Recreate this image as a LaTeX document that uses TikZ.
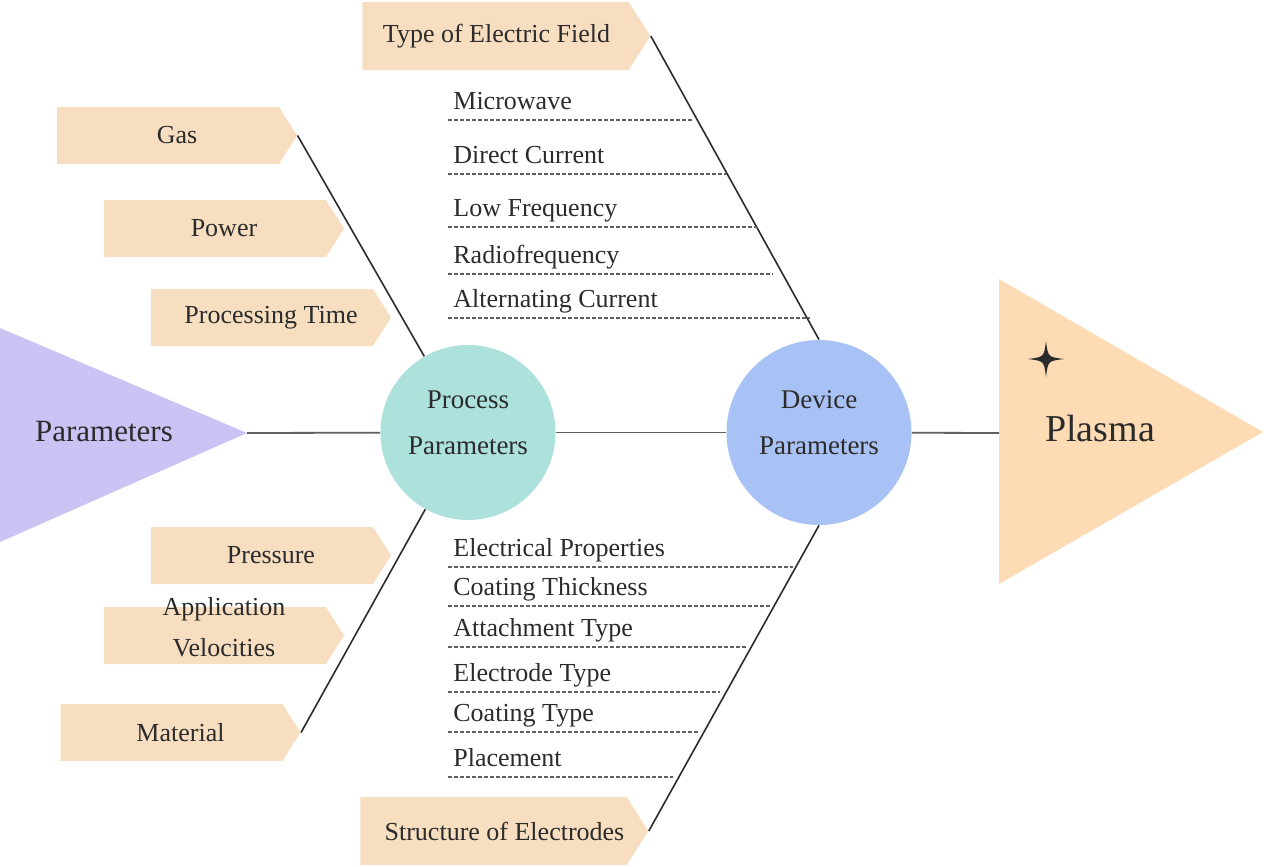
\documentclass[tikz,border=0pt]{standalone}
\usepackage{fontspec}
\setmainfont{Liberation Serif}
\usetikzlibrary{shapes.symbols,positioning}
\definecolor{tagfill}{HTML}{F8DEC0}
\definecolor{plasmafill}{HTML}{FDDBB4}
\definecolor{procfill}{HTML}{ADE1DB}
\definecolor{devfill}{HTML}{A9C2F5}
\definecolor{paramfill}{HTML}{CAC3F4}
\definecolor{dark}{HTML}{2B2B2B}
\tikzset{
  tagbase/.style={shape=signal, signal to=east, signal from=nowhere, signal pointer angle=115, fill=tagfill, inner sep=0pt, font=\fontsize{13}{15}\selectfont, text=dark},
  tag/.style={tagbase, minimum width=120pt, minimum height=28.5pt, execute at begin node={\hspace*{9pt}}},
  bigtag/.style={tagbase, minimum width=144pt, minimum height=34pt},
  hub/.style={circle, inner sep=0pt, align=center, text depth=10pt, font=\fontsize{13.5}{23}\selectfont, text=dark},
  bone/.style={draw=dark, line width=0.8pt},
  spine/.style={draw=dark!75, line width=0.9pt},
  rib/.style={draw=dark!75, line width=0.6pt, dash pattern=on 2pt off 1pt},
  sub/.style={anchor=base west, inner sep=0pt, font=\fontsize{13}{15}\selectfont, text=dark}
}
\begin{document}
\begin{tikzpicture}[x={(0.5pt,0)}, y={(0,-0.5pt)}]
  \useasboundingbox (0,0) rectangle (1266,867);

  % head and tail
  \fill[paramfill] (0,328) -- (247,433) -- (0,542) -- cycle;
  \coordinate (ptip) at (247,433);
  \node[font=\fontsize{15.5}{18}\selectfont, text=dark] (params) at (104,431) {Parameters};
  \fill[plasmafill] (999,279) -- (1263,432) -- (999,584) -- cycle;
  \coordinate (pbase) at (999,433);
  \node[font=\fontsize{19}{22}\selectfont, text=dark] (plasma) at (1100,428) {Plasma};
  \fill[dark] (1046,341) .. controls (1048,357) .. (1064,359) .. controls (1048,361) .. (1046,377)
    .. controls (1044,361) .. (1028,359) .. controls (1044,357) .. (1046,341) -- cycle;

  % hubs
  \node[hub, fill=procfill, minimum size=87.5pt] (process) at (468,432.5) {Process\\Parameters};
  \node[hub, fill=devfill, minimum size=92.5pt] (device) at (819,432.5) {Device\\Parameters};

  % causes
  \node[tag] (gas) at (168,135.5) {Gas};
  \node[tag] (power) at (215,228.5) {Power};
  \node[tag] (ptime) at (262,317.5) {Processing Time};
  \node[tag] (pressure) at (262,555.5) {Pressure};
  \node[tag] (velocity) at (215,635.5) {\smash{\begin{tabular}{c}Application\\[5.5pt]Velocities\end{tabular}}};
  \node[tag] (material) at (171.5,732.5) {Material};
  \node[bigtag, execute at begin node={\hspace*{1pt}}] (field) at (495.5,36) {Type of Electric Field};
  \node[bigtag, execute at begin node={\hspace*{11pt}}] (electrodes) at (493.5,831) {Structure of Electrodes};

  % bones
  \draw[spine] (ptip) -- (process);
  \draw[spine] (process) -- (device);
  \draw[spine] (device) -- (pbase);
  \draw[bone] (gas.east) -- (process);
  \draw[bone] (material.east) -- (process);
  \draw[bone] (field.east) -- (device.north);
  \draw[bone] (electrodes.east) -- (device.south);

  % sub causes
  \foreach \yy/\xe/\txt [count=\i] in {120/693/Microwave, 174/727/Direct Current,
      227/757/Low Frequency, 274/773/Radiofrequency, 318/810/Alternating Current}{
    \node[sub] (up\i) at (453,\yy-11) {\txt};
    \coordinate (ul\i) at (448,\yy);
    \coordinate (ur\i) at (\xe,\yy);
    \draw[rib] (ul\i) -- (ur\i);
  }
  \foreach \yy/\xe/\txt [count=\i] in {567/793/Electrical Properties, 606/770/Coating Thickness,
      647/747/Attachment Type, 692/720/Electrode Type, 732/700/Coating Type, 777/673/Placement}{
    \node[sub] (lo\i) at (453,\yy-11) {\txt};
    \coordinate (ll\i) at (448,\yy);
    \coordinate (lr\i) at (\xe,\yy);
    \draw[rib] (ll\i) -- (lr\i);
  }
\end{tikzpicture}
\end{document}
